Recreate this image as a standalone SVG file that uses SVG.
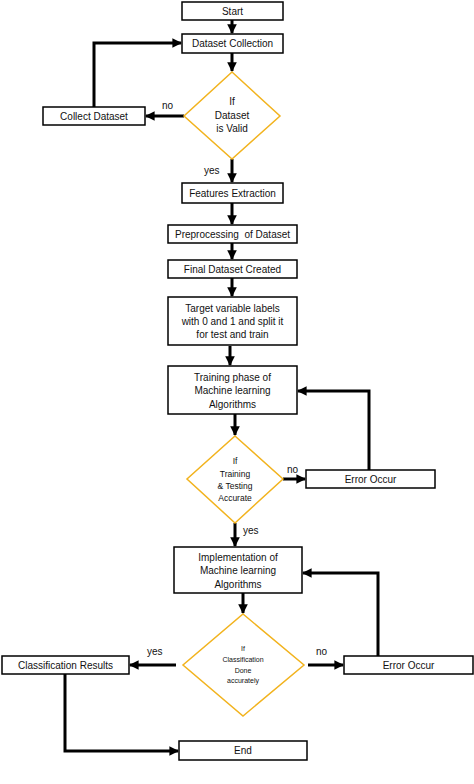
<svg xmlns="http://www.w3.org/2000/svg" width="474" height="784" viewBox="0 0 474 784">
<defs>
<marker id="ah" viewBox="0 0 10 10" refX="9" refY="5" markerWidth="3.2" markerHeight="3.2" orient="auto" markerUnits="strokeWidth">
<path d="M0,0 L10,5 L0,10 z" fill="#000"/>
</marker>
</defs>
<style>
.box{fill:#fff;stroke:#000;stroke-width:1.5}
.dia{fill:#fff;stroke:#F2B31E;stroke-width:1.5}
.t{font-family:"Liberation Sans",Arial,sans-serif;font-size:10px;fill:#111;text-anchor:middle}
.s{font-size:8.5px}
.xs{font-size:7px}
.lbl{font-family:"Liberation Sans",Arial,sans-serif;font-size:10px;fill:#111}
.c{fill:none;stroke:#000;stroke-width:3;marker-end:url(#ah)}
</style>
<rect width="474" height="784" fill="#fff"/>

<g id="connectors">
<path class="c" d="M232,20 V33"/>
<path class="c" d="M232,53 V71"/>
<path class="c" d="M184,116 H146"/>
<path class="c" d="M94,107 V43 H181"/>
<path class="c" d="M232,159 V182"/>
<path class="c" d="M232,203 V224"/>
<path class="c" d="M232,243 V259"/>
<path class="c" d="M232,278 V296"/>
<path class="c" d="M230,346 V365"/>
<path class="c" d="M235,414 V435"/>
<path class="c" d="M283,479 H305"/>
<path class="c" d="M369,470 V391 H298"/>
<path class="c" d="M235,523 V546"/>
<path class="c" d="M243,593 V613"/>
<path class="c" d="M176,665 H130"/>
<path class="c" d="M308,665 H343"/>
<path class="c" d="M378,656 V573 H303"/>
<path class="c" d="M65,674 V751 H178"/>
</g>

<g id="labels">
<text class="lbl" x="162" y="109">no</text>
<text class="lbl" x="204" y="174">yes</text>
<text class="lbl" x="287" y="473">no</text>
<text class="lbl" x="243" y="534">yes</text>
<text class="lbl" x="147" y="655">yes</text>
<text class="lbl" x="316" y="655">no</text>
</g>

<g id="start"><rect class="box" x="182" y="2" width="101" height="18"/><text class="t" x="232.5" y="14.5">Start</text></g>
<g id="dataset-collection"><rect class="box" x="182" y="34" width="101" height="19"/><text class="t" x="232.5" y="47">Dataset Collection</text></g>
<g id="dataset-valid"><polygon class="dia" points="232,72 280,116 232,159 184,116"/><text class="t" x="232" y="105">If</text><text class="t" x="232" y="119">Dataset</text><text class="t" x="232" y="132">is Valid</text></g>
<g id="collect-dataset"><rect class="box" x="43" y="107" width="102" height="18"/><text class="t" x="94" y="119.5">Collect Dataset</text></g>
<g id="features-extraction"><rect class="box" x="182" y="183" width="101" height="20"/><text class="t" x="232.5" y="196.5">Features Extraction</text></g>
<g id="preprocessing"><rect class="box" x="168" y="225" width="129" height="18"/><text class="t" x="232.5" y="237.5" xml:space="preserve">Preprocessing  of Dataset</text></g>
<g id="final-dataset"><rect class="box" x="168" y="260" width="129" height="18"/><text class="t" x="232.5" y="272.5">Final Dataset Created</text></g>
<g id="target"><rect class="box" x="168" y="297" width="129" height="48"/><text class="t" x="232.5" y="311.5">Target variable labels</text><text class="t" x="232.5" y="324.5">with 0 and 1 and split it</text><text class="t" x="232.5" y="337.5">for test and train</text></g>
<g id="training"><rect class="box" x="168" y="366" width="129" height="48"/><text class="t" x="232.5" y="380.5">Training phase of</text><text class="t" x="232.5" y="394">Machine learning</text><text class="t" x="232.5" y="407.5">Algorithms</text></g>
<g id="training-accurate"><polygon class="dia" points="235,436 283,479 235,523 187,479"/><text class="t s" x="235" y="464">If</text><text class="t s" x="235" y="477">Training</text><text class="t s" x="235" y="489">&amp; Testing</text><text class="t s" x="235" y="501">Accurate</text></g>
<g id="error-occur-1"><rect class="box" x="306" y="470" width="129" height="18"/><text class="t" x="370.5" y="482.5">Error Occur</text></g>
<g id="implementation"><rect class="box" x="174" y="547" width="128" height="46"/><text class="t" x="238" y="560.5">Implementation of</text><text class="t" x="238" y="574">Machine learning</text><text class="t" x="238" y="587.5">Algorithms</text></g>
<g id="classification-done"><polygon class="dia" points="243,614 304,665 243,716 183,665"/><text class="t xs" x="243" y="651">If</text><text class="t xs" x="243" y="662">Classification</text><text class="t xs" x="243" y="673">Done</text><text class="t xs" x="243" y="683">accurately</text></g>
<g id="classification-results"><rect class="box" x="2" y="656" width="127" height="18"/><text class="t" x="65.5" y="668.5">Classification Results</text></g>
<g id="error-occur-2"><rect class="box" x="344" y="656" width="129" height="18"/><text class="t" x="408.5" y="668.5">Error Occur</text></g>
<g id="end"><rect class="box" x="179" y="741" width="128" height="19"/><text class="t" x="243" y="754">End</text></g>
</svg>
